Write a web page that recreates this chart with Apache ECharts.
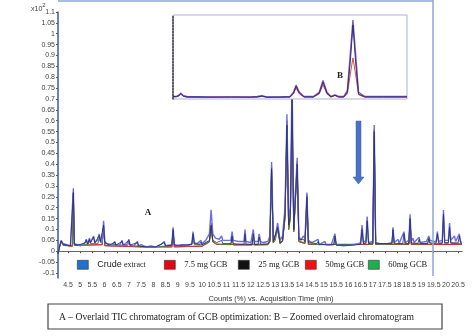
<!DOCTYPE html>
<html><head><meta charset="utf-8">
<script src="https://cdn.jsdelivr.net/npm/echarts@6/dist/echarts.min.js"></script>
<style>html,body{margin:0;padding:0;background:#fff}#c{width:474px;height:336px}</style>
</head><body><div id="c"></div>
<script>
// ---- tick labels ----
const xTicks = [4.5,5,5.5,6,6.5,7,7.5,8,8.5,9,9.5,10,10.5,11,11.5,12,12.5,13,13.5,14,14.5,15,15.5,16,16.5,17,17.5,18,18.5,19,19.5,20,20.5];
const yTicks = [-0.1,-0.05,0,0.05,0.1,0.15,0.2,0.25,0.3,0.35,0.4,0.45,0.5,0.55,0.6,0.65,0.7,0.75,0.8,0.85,0.9,0.95,1,1.05,1.1];
const seriesNames = ['Crude extract','7.5 mg GCB','25 mg GCB','50mg GCB','60mg GCB'];

// ---- main chromatogram (A), acquisition time (min) / counts x10^2 ----
const crudeTime = [4.09,4.15,4.22,4.3,4.45,4.6,4.68,4.72,4.76,4.9,5.0,5.1,5.2,5.25,5.3,5.38,5.42,5.5,5.55,5.6,5.7,5.78,5.83,5.9,5.96,6.01,6.1,6.2,6.3,6.42,6.46,6.6,6.72,6.76,6.9,7.0,7.04,7.2,7.35,7.39,7.5,7.7,7.9,8.1,8.3,8.45,8.5,8.76,8.81,8.86,9.0,9.2,9.4,9.58,9.63,9.68,9.8,9.95,10.0,10.15,10.3,10.37,10.44,10.55,10.7,10.8,10.85,11.0,11.18,11.23,11.28,11.5,11.72,11.76,11.8,12.0,12.1,12.15,12.3,12.34,12.4,12.5,12.7,12.78,12.85,12.92,13.0,13.1,13.2,13.3,13.4,13.48,13.55,13.62,13.69,13.76,13.83,13.9,13.97,14.05,14.15,14.22,14.3,14.36,14.5,14.76,14.8,15.04,15.08,15.3,15.45,15.5,15.8,16.2,16.4,16.5,16.56,16.62,16.72,16.77,16.83,17.0,17.06,17.12,17.3,17.6,17.8,17.83,17.88,18.04,18.08,18.28,18.33,18.48,18.53,18.58,18.65,18.7,18.9,18.95,19.2,19.3,19.35,19.5,19.6,19.65,19.7,19.85,19.9,19.95,20.1,20.15,20.2,20.35,20.4,20.55,20.6,20.66];
const crudeValues = [-0.01,0.02,0.05,0.035,0.03,0.025,0.03,0.29,0.035,0.03,0.025,0.03,0.04,0.055,0.035,0.06,0.04,0.045,0.07,0.04,0.05,0.08,0.05,0.04,0.14,0.045,0.035,0.03,0.025,0.045,0.03,0.025,0.05,0.03,0.03,0.055,0.03,0.025,0.045,0.025,0.03,0.02,0.025,0.02,0.03,0.045,0.025,0.03,0.11,0.03,0.025,0.03,0.025,0.035,0.09,0.04,0.035,0.05,0.035,0.05,0.08,0.19,0.08,0.06,0.055,0.07,0.05,0.05,0.05,0.09,0.05,0.045,0.045,0.1,0.045,0.04,0.1,0.045,0.045,0.08,0.045,0.04,0.045,0.07,0.41,0.06,0.07,0.13,0.05,0.07,0.2,0.63,0.15,0.2,0.8,0.12,0.12,0.43,0.07,0.05,0.07,0.06,0.27,0.05,0.04,0.055,0.03,0.045,0.03,0.03,0.08,0.03,0.025,0.03,0.035,0.04,0.12,0.04,0.05,0.16,0.04,0.045,0.58,0.04,0.035,0.035,0.04,0.11,0.04,0.055,0.035,0.09,0.04,0.05,0.17,0.045,0.06,0.04,0.065,0.04,0.045,0.07,0.05,0.045,0.045,0.09,0.045,0.05,0.19,0.05,0.05,0.13,0.05,0.07,0.045,0.08,0.045,0.04];

const gcb25Time = [4.09,4.15,4.22,4.3,4.6,4.68,4.72,4.76,4.9,5.2,5.25,5.3,5.38,5.42,5.55,5.6,5.78,5.83,5.9,5.96,6.01,6.2,6.42,6.46,6.72,6.76,7.0,7.04,7.35,7.39,7.7,8.1,8.45,8.5,8.76,8.81,8.86,9.2,9.58,9.63,9.68,9.9,9.95,10.0,10.3,10.37,10.44,10.6,10.8,10.85,11.18,11.23,11.28,11.5,11.72,11.76,11.8,12.05,12.1,12.15,12.3,12.34,12.4,12.7,12.78,12.85,12.92,13.0,13.1,13.2,13.3,13.4,13.48,13.55,13.62,13.69,13.76,13.83,13.9,13.97,14.15,14.22,14.3,14.36,14.7,14.76,14.8,15.4,15.45,15.5,16.2,16.5,16.56,16.62,16.72,16.77,16.83,17.0,17.06,17.12,17.78,17.83,17.88,18.23,18.28,18.33,18.48,18.53,18.58,18.85,18.9,18.95,19.25,19.3,19.35,19.6,19.65,19.7,19.85,19.9,19.95,20.1,20.15,20.2,20.5,20.55,20.6,20.66];
const gcb25Values = [-0.012,0.02,0.048,0.033,0.024,0.028,0.27,0.032,0.028,0.038,0.05,0.033,0.055,0.038,0.065,0.038,0.072,0.045,0.038,0.12,0.04,0.028,0.042,0.028,0.045,0.028,0.05,0.028,0.04,0.024,0.02,0.02,0.04,0.024,0.028,0.1,0.028,0.028,0.032,0.08,0.035,0.032,0.042,0.03,0.05,0.12,0.05,0.04,0.05,0.035,0.035,0.07,0.035,0.032,0.032,0.08,0.032,0.032,0.08,0.032,0.032,0.065,0.032,0.034,0.05,0.38,0.045,0.05,0.11,0.04,0.05,0.17,0.58,0.12,0.17,0.7,0.1,0.1,0.4,0.055,0.055,0.045,0.25,0.04,0.035,0.045,0.03,0.03,0.07,0.028,0.028,0.032,0.1,0.035,0.038,0.14,0.035,0.038,0.55,0.035,0.035,0.1,0.035,0.035,0.08,0.035,0.036,0.15,0.038,0.036,0.055,0.035,0.036,0.06,0.038,0.038,0.08,0.038,0.038,0.17,0.04,0.04,0.11,0.04,0.038,0.07,0.038,0.036];

const gcb60Time = [4.09,4.15,4.22,4.3,4.68,4.72,4.76,5.33,5.38,5.42,5.73,5.78,5.83,5.91,5.96,6.01,6.95,7.0,7.04,8.1,8.76,8.81,8.86,9.58,9.63,9.68,10.0,10.3,10.37,10.44,10.6,11.18,11.23,11.28,12.05,12.1,12.15,12.7,12.78,12.85,12.92,13.0,13.1,13.2,13.3,13.4,13.48,13.55,13.62,13.69,13.76,13.83,13.9,13.97,14.22,14.3,14.36,15.4,15.45,15.5,16.5,16.56,16.62,16.72,16.77,16.83,17.0,17.06,17.12,17.78,17.83,17.88,18.48,18.53,18.58,19.25,19.3,19.35,19.85,19.9,19.95,20.1,20.15,20.2,20.66];
const gcb60Values = [-0.012,0.018,0.045,0.03,0.026,0.26,0.03,0.032,0.05,0.035,0.035,0.065,0.04,0.035,0.11,0.035,0.026,0.045,0.026,0.02,0.026,0.09,0.026,0.03,0.07,0.03,0.03,0.045,0.1,0.045,0.033,0.03,0.06,0.028,0.028,0.07,0.028,0.03,0.042,0.36,0.038,0.05,0.1,0.033,0.05,0.15,0.55,0.1,0.15,0.62,0.09,0.09,0.38,0.045,0.04,0.23,0.033,0.03,0.06,0.03,0.032,0.09,0.032,0.035,0.13,0.032,0.033,0.52,0.032,0.032,0.09,0.032,0.034,0.14,0.034,0.034,0.055,0.034,0.036,0.15,0.036,0.036,0.1,0.036,0.034];

const gcb7Time = [4.09,4.15,4.22,4.3,4.68,4.72,4.76,5.9,5.96,6.01,7.5,8.76,8.81,8.86,10.0,10.3,10.37,10.44,10.6,12.7,12.78,12.85,12.92,13.0,13.1,13.2,13.3,13.4,13.48,13.55,13.62,13.69,13.76,13.83,13.9,13.97,14.22,14.3,14.36,17.0,17.06,17.12,18.48,18.53,18.58,20.66];
const gcb7Values = [-0.01,0.019,0.046,0.028,0.024,0.27,0.028,0.03,0.115,0.026,0.02,0.02,0.095,0.02,0.024,0.045,0.13,0.045,0.032,0.032,0.046,0.39,0.042,0.046,0.11,0.036,0.046,0.16,0.6,0.11,0.16,0.68,0.1,0.1,0.41,0.045,0.036,0.26,0.032,0.032,0.56,0.032,0.032,0.15,0.032,0.032];

const gcb50Time = [4.09,4.15,4.22,4.3,4.68,4.72,4.76,5.9,5.96,6.01,7.5,8.76,8.81,8.86,10.0,10.3,10.37,10.44,10.6,12.7,12.78,12.85,12.92,13.0,13.1,13.2,13.3,13.4,13.48,13.55,13.62,13.69,13.76,13.83,13.9,13.97,14.22,14.3,14.36,17.0,17.06,17.12,18.48,18.53,18.58,20.66];
const gcb50Values = [-0.011,0.018,0.047,0.027,0.023,0.265,0.027,0.03,0.11,0.025,0.02,0.02,0.09,0.02,0.023,0.042,0.11,0.042,0.031,0.03,0.044,0.37,0.04,0.045,0.1,0.035,0.045,0.15,0.57,0.1,0.15,0.64,0.09,0.09,0.39,0.044,0.035,0.24,0.031,0.031,0.53,0.031,0.031,0.14,0.031,0.031];

// ---- zoomed inset (B), relative units ----
const insetTime = [0,1.5,2.5,3.4,4.4,6,15,25,33,36,38,40,45,50,51.5,52.6,54,56,60,62.5,64.1,65.8,67.5,69.2,70.8,73,74.5,75.8,76.9,78,79.3,82,90,100];
const insetCrude = [3,3,4.5,7,4,3,2.5,2.5,2.5,3,4,2.5,2.5,3,8,16.5,8,3,3,8,22,8,3,5,3,3,10,55,94,55,8,3,3,3];
const inset25 = [3,3,4,6.5,3.5,2.5,2.2,2.2,2.2,2.5,3.5,2.2,2.2,2.5,7,15,7,2.5,2.5,7,20,7,2.5,4.5,2.5,2.5,8,45,88,45,6,2.5,2.5,2.5];
const inset7 = [2.5,2.5,3.5,5.5,3,2,2,2.5,2,2.2,3,2,2,2.2,6,13,6,2.2,2.2,6,17,6,2.2,4,2.2,2.2,6,30,49,30,5,2.2,2.2,2.2];

const zip = (t, v) => t.map((x, i) => [x, v[i]]);
const fmt = v => String(+(+v).toFixed(2));

const legendPos = [72, 159, 233, 300, 363];
const legendColors = ['#1f72c6', '#e00814', '#111111', '#f01010', '#1fae4f'];
const legends = seriesNames.map((n, i) => ({
  left: legendPos[i], top: 255, icon: 'rect', itemWidth: 11, itemHeight: 9,
  data: [{ name: n, itemStyle: { color: legendColors[i], borderColor: '#333', borderWidth: 0.6 } }],
  selectedMode: false,
  formatter: name => name === 'Crude extract' ? '{a|Crude} {b|extract}' : name,
  textStyle: {
    fontFamily: 'Liberation Serif', fontSize: 8.5, color: '#222', padding: [0, 0, 0, 4],
    rich: { a: { fontFamily: 'Liberation Sans', fontSize: 9, color: '#222' }, b: { fontFamily: 'Liberation Serif', fontSize: 8, color: '#222' } }
  }
}));

const chart = echarts.init(document.getElementById('c'), null, { renderer: 'canvas' });
chart.setOption({
  animation: false,
  backgroundColor: '#fff',
  legend: legends,
  grid: [
    { left: 58, right: 12, top: 12, bottom: 58 },
    { left: 173, top: 15, width: 234, height: 84, show: true, backgroundColor: '#fff', borderColor: '#a9b3da', borderWidth: 1, z: 5 }
  ],
  xAxis: [
    { type: 'value', gridIndex: 0, min: 4.09, max: 20.66,
      axisLine: { show: true, lineStyle: { color: '#4a63bd', width: 1.2 } },
      axisTick: { show: true, customValues: xTicks, length: 2, lineStyle: { color: '#555' } },
      axisLabel: { customValues: xTicks, formatter: fmt, fontSize: 7, fontFamily: 'Liberation Sans', color: '#444', margin: 4 },
      splitLine: { show: false },
      name: 'Counts (%) vs. Acquisition Time (min)', nameLocation: 'middle', nameGap: 17,
      nameTextStyle: { fontSize: 7.5, fontFamily: 'Liberation Sans', color: '#333', padding: [0, 0, 0, 22] } },
    { type: 'value', gridIndex: 1, min: 0, max: 100, show: false, z: 6 }
  ],
  yAxis: [
    { type: 'value', gridIndex: 0, min: -0.123, max: 1.1,
      axisLine: { show: true, lineStyle: { color: '#3d56b4', width: 1.5 } },
      axisTick: { show: true, customValues: yTicks, length: 2, lineStyle: { color: '#555' } },
      axisLabel: { customValues: yTicks, formatter: fmt, fontSize: 7, fontFamily: 'Liberation Sans', color: '#444', margin: 3 },
      splitLine: { show: false } },
    { type: 'value', gridIndex: 1, min: 0, max: 100, z: 6,
      axisLine: { show: true, lineStyle: { color: '#333', type: 'dotted', width: 1.5 } },
      axisTick: { show: false }, axisLabel: { show: false }, splitLine: { show: false } }
  ],
  series: [
    { name: '50mg GCB', type: 'line', xAxisIndex: 0, yAxisIndex: 0, data: zip(gcb50Time, gcb50Values), showSymbol: false, color: '#d02a2a', lineStyle: { width: 1 } },
    { name: '7.5 mg GCB', type: 'line', xAxisIndex: 0, yAxisIndex: 0, data: zip(gcb7Time, gcb7Values), showSymbol: false, color: '#c83040', lineStyle: { width: 1 } },
    { name: '60mg GCB', type: 'line', xAxisIndex: 0, yAxisIndex: 0, data: zip(gcb60Time, gcb60Values), showSymbol: false, color: '#4f8a2e', lineStyle: { width: 1 } },
    { name: 'Crude extract', type: 'line', xAxisIndex: 0, yAxisIndex: 0, data: zip(crudeTime, crudeValues), showSymbol: false, color: '#6f6fdc', lineStyle: { width: 1.4 } },
    { name: '25 mg GCB', type: 'line', xAxisIndex: 0, yAxisIndex: 0, data: zip(gcb25Time, gcb25Values), showSymbol: false, color: '#1f2a72', lineStyle: { width: 0.8 } },
    { name: '7.5 mg GCB', type: 'line', xAxisIndex: 1, yAxisIndex: 1, data: zip(insetTime, inset7), showSymbol: false, color: '#d9503a', lineStyle: { width: 1 }, z: 7 },
    { name: 'Crude extract', type: 'line', xAxisIndex: 1, yAxisIndex: 1, data: zip(insetTime, insetCrude), showSymbol: false, color: '#8455c8', lineStyle: { width: 1.4 }, z: 7 },
    { name: '25 mg GCB', type: 'line', xAxisIndex: 1, yAxisIndex: 1, data: zip(insetTime, inset25), showSymbol: false, color: '#262a6e', lineStyle: { width: 0.9 }, z: 8 }
  ],
  graphic: [
    { type: 'line', shape: { x1: 58, y1: 1, x2: 433, y2: 1 }, style: { stroke: '#8ea6dc', lineWidth: 1.5 }, z: 20 },
    { type: 'line', shape: { x1: 433, y1: 0, x2: 433, y2: 276 }, style: { stroke: '#8ea6dc', lineWidth: 1.5 }, z: 20 },
    { type: 'text', left: 31, top: 2, z: 20, style: { text: '{a|x10}{b|2}', rich: { a: { fontSize: 7, fontFamily: 'Liberation Sans', fill: '#444', padding: [4, 0, 0, 0] }, b: { fontSize: 6, fontFamily: 'Liberation Sans', fill: '#444', verticalAlign: 'top' } } } },
    { type: 'text', x: 148, y: 213, z: 20, style: { text: 'A', fontSize: 9, fontWeight: 'bold', fontFamily: 'Liberation Serif', fill: '#222', align: 'center', verticalAlign: 'middle' } },
    { type: 'text', x: 340, y: 76, z: 20, style: { text: 'B', fontSize: 9, fontWeight: 'bold', fontFamily: 'Liberation Serif', fill: '#222', align: 'center', verticalAlign: 'middle' } },
    { type: 'polygon', z: 20, shape: { points: [[356, 121], [361, 121], [361, 177], [364, 177], [358.5, 184], [353, 177], [356, 177]] }, style: { fill: '#4a72c4', stroke: '#3d62b0', lineWidth: 0.5 } },
    { type: 'rect', z: 20, shape: { x: 48, y: 304, width: 394, height: 25 }, style: { fill: 'none', stroke: '#444', lineWidth: 1.2 } },
    { type: 'text', x: 59, y: 317, z: 20, style: { text: 'A – Overlaid TIC chromatogram of GCB optimization: B – Zoomed overlaid chromatogram', fontSize: 9.6, fontFamily: 'Liberation Serif', fill: '#222', verticalAlign: 'middle' } }
  ]
});
</script>
</body></html>
